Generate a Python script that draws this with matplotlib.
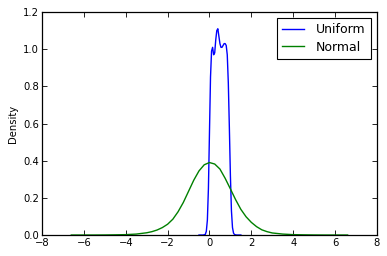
import numpy as np
import matplotlib
matplotlib.use("Agg")
import matplotlib.pyplot as plt

# KDE curves
uniform_x = [-0.5, -0.3, -0.2, -0.15, -0.1, -0.05, 0.0, 0.05, 0.1, 0.15, 0.2, 0.25,
             0.3, 0.35, 0.4, 0.45, 0.5, 0.55, 0.6, 0.65, 0.7, 0.75, 0.8, 0.85, 0.9,
             0.95, 1.0, 1.05, 1.1, 1.15, 1.2, 1.3, 1.5]
uniform_y = [0.0, 0.0, 0.003, 0.02, 0.08, 0.25, 0.55, 0.85, 0.99, 1.01, 0.97, 0.98,
             1.05, 1.10, 1.11, 1.07, 1.03, 1.01, 1.01, 1.02, 1.03, 1.03, 1.02, 0.97, 0.82,
             0.58, 0.32, 0.13, 0.04, 0.01, 0.002, 0.0, 0.0]

normal_x = [-6.6, -5.5, -5.0, -4.5, -4.0, -3.5, -3.0, -2.75, -2.5, -2.25, -2.0, -1.75,
            -1.5, -1.25, -1.0, -0.75, -0.5, -0.25, 0.0, 0.25, 0.5, 0.75, 1.0, 1.25,
            1.5, 1.75, 2.0, 2.25, 2.5, 2.75, 3.0, 3.5, 4.0, 4.5, 5.0, 5.5, 6.6]
normal_y = [0.0, 0.0, 0.0003, 0.001, 0.002, 0.005, 0.012, 0.018, 0.027, 0.040, 0.058, 0.085,
            0.125, 0.175, 0.235, 0.295, 0.345, 0.378, 0.390, 0.382, 0.355, 0.305, 0.248, 0.190,
            0.138, 0.098, 0.068, 0.045, 0.028, 0.018, 0.011, 0.005, 0.002, 0.001, 0.0003, 0.0, 0.0]

xticks = [-8, -6, -4, -2, 0, 2, 4, 6, 8]
yticks = [0.0, 0.2, 0.4, 0.6, 0.8, 1.0, 1.2]

plt.rcParams['font.family'] = 'DejaVu Sans'
plt.rcParams['font.size'] = 7.2

fig = plt.figure(figsize=(3.87, 2.56), dpi=100, facecolor='white')
ax = fig.add_axes([0.1085, 0.082, 0.8655, 0.871])

ax.plot(uniform_x, uniform_y, color='#0000ff', lw=1.0, label='Uniform')
ax.plot(normal_x, normal_y, color='#008000', lw=1.0, label='Normal')

ax.set_xlim(-8, 8)
ax.set_ylim(0, 1.2)
ax.set_xticks(xticks)
ax.set_yticks(yticks)
ax.set_xticklabels(['\u2212%d' % -t if t < 0 else '%d' % t for t in xticks])
ax.set_yticklabels(['%.1f' % t for t in yticks])
ax.tick_params(direction='in', top=True, right=True, length=3.5, width=0.6, pad=2,
               labelsize=7.2)
for s in ax.spines.values():
    s.set_linewidth(0.9)
ax.set_ylabel('Density', fontsize=7.2, labelpad=4)

leg = ax.legend(loc='upper right', fontsize=9.0, fancybox=False, framealpha=1,
                edgecolor='black', borderpad=0.4, handlelength=1.7,
                handletextpad=1.0, labelspacing=0.35, borderaxespad=0.5)
leg.get_frame().set_linewidth(0.8)

fig.savefig('out.png', dpi=100, facecolor='white')
